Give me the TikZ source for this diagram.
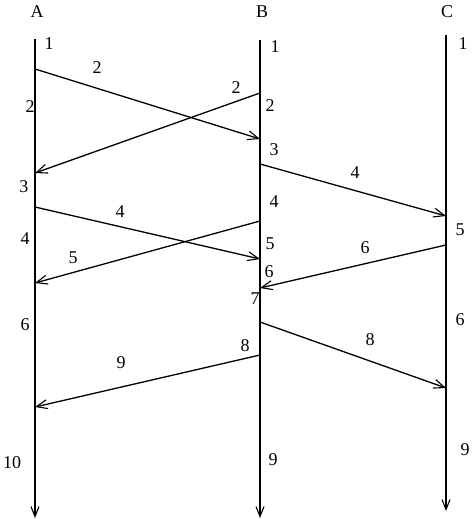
\documentclass[tikz,border=0pt]{standalone}
\usepackage{fontspec}
\setmainfont{Liberation Serif}
\usetikzlibrary{arrows.meta}
\begin{document}
\begin{tikzpicture}[x=1pt,y=-1pt,
  life/.style={line width=1.3pt,-{Straight Barb[length=10pt,width=8pt,line width=1.1pt]}},
  msg/.style={line width=1.3pt,-{Straight Barb[length=11pt,width=9pt,line width=1.1pt]}},
  lbl/.style={font=\fontsize{18}{20}\selectfont, inner sep=0pt}]
\useasboundingbox (0,0) rectangle (474,519);
% lifeline ends
\coordinate (Atop) at (35,39);  \coordinate (Abot) at (35,518);
\coordinate (Btop) at (260,40); \coordinate (Bbot) at (260,518);
\coordinate (Ctop) at (446,35); \coordinate (Cbot) at (446,511);
\draw[life] (Atop) -- (Abot);
\draw[life] (Btop) -- (Bbot);
\draw[life] (Ctop) -- (Cbot);
% events
\coordinate (a1) at (35,69);   \coordinate (b1) at (260,139);
\coordinate (b2) at (260,93);  \coordinate (a2) at (35,173);
\coordinate (a3) at (35,207);  \coordinate (b3) at (260,259);
\coordinate (b4) at (260,221); \coordinate (a4) at (35,283);
\coordinate (b5) at (260,164); \coordinate (c1) at (446,216);
\coordinate (c2) at (446,245); \coordinate (b6) at (260,288);
\coordinate (b7) at (260,322); \coordinate (c3) at (446,388);
\coordinate (b8) at (260,355); \coordinate (a5) at (35,407);
\draw[msg] (a1) -- (b1);
\draw[msg] (b2) -- (a2);
\draw[msg] (a3) -- (b3);
\draw[msg] (b4) -- (a4);
\draw[msg] (b5) -- (c1);
\draw[msg] (c2) -- (b6);
\draw[msg] (b7) -- (c3);
\draw[msg] (b8) -- (a5);
% headers
\node[lbl] (hA) at (37,12) {A};
\node[lbl] (hB) at (262,12) {B};
\node[lbl] (hC) at (447,12) {C};
% message labels
\node[lbl] (m1) at (97,68) {2};
\node[lbl] (m2) at (236,88) {2};
\node[lbl] (m3) at (120,212) {4};
\node[lbl] (m4) at (73,258) {5};
\node[lbl] (m5) at (355,173) {4};
\node[lbl] (m6) at (365,248) {6};
\node[lbl] (m7) at (370,340) {8};
\node[lbl] (m8a) at (245,346) {8};
\node[lbl] (m8) at (121,363) {9};
% A clock labels
\node[lbl] (A1) at (49,44) {1};
\node[lbl] (A2) at (30,107) {2};
\node[lbl] (A3) at (24,187) {3};
\node[lbl] (A4) at (25,239) {4};
\node[lbl] (A6) at (25,325) {6};
\node[lbl] (A10) at (12,463) {10};
% B clock labels
\node[lbl] (B1) at (275,47) {1};
\node[lbl] (B2) at (270,106) {2};
\node[lbl] (B3) at (274,150) {3};
\node[lbl] (B4) at (274,202) {4};
\node[lbl] (B5) at (270,244) {5};
\node[lbl] (B6) at (269,272) {6};
\node[lbl] (B7) at (255,299) {7};
\node[lbl] (B9) at (273,460) {9};
% C clock labels
\node[lbl] (C1) at (463,44) {1};
\node[lbl] (C5) at (460,230) {5};
\node[lbl] (C6) at (460,320) {6};
\node[lbl] (C9) at (465,450) {9};
\end{tikzpicture}
\end{document}
